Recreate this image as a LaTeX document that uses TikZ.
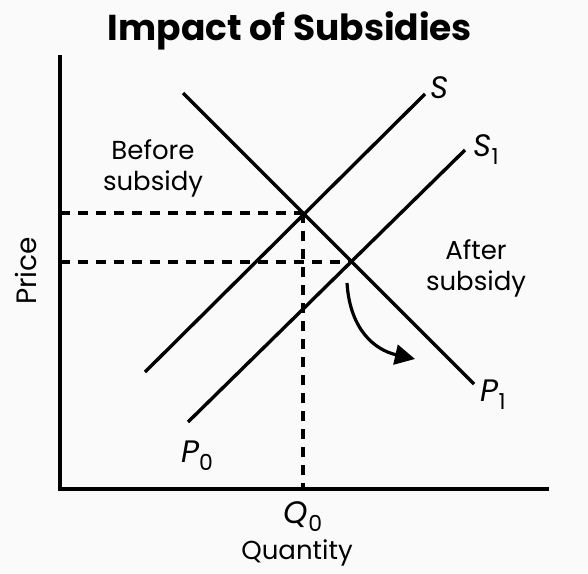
\documentclass[tikz,border=0pt]{standalone}
\usepackage{fontspec}
\setmainfont{Poppins}
\usetikzlibrary{arrows.meta}
\newcommand{\symsub}[2]{\textit{#1}\raisebox{-0.26em}{\fontsize{22}{26}\selectfont #2}}
\begin{document}
\begin{tikzpicture}[x=1pt,y=-1pt,
  axis/.style={line width=3.4pt},
  curve/.style={line width=3.4pt},
  guide/.style={line width=3.2pt, dash pattern=on 10pt off 8pt},
  lbl/.style={font=\fontsize{26}{31}\selectfont, align=center, inner sep=0pt},
  sym/.style={font=\fontsize{31}{34}\selectfont, inner sep=0pt}]
\useasboundingbox (0,0) rectangle (588,573);
\fill[white!98!black] (0,0) rectangle (588,573);
% axes
\coordinate (top) at (60,55);
\coordinate (orig) at (60,489);
\coordinate (right) at (549,489);
\draw[axis] (top) -- (orig) -- (right);
% lines
\coordinate (d0) at (183,93);
\coordinate (d1) at (474,384);
\coordinate (s0) at (145,372);
\coordinate (s1) at (425,94);
\coordinate (t0) at (188,422);
\coordinate (t1) at (465,150);
\draw[curve] (d0) -- (d1);
\draw[curve] (s0) -- (s1);
\draw[curve] (t0) -- (t1);
% equilibria
\coordinate (e0) at (303,213);
\coordinate (e1) at (349,262);
\coordinate (y0) at (60,213);
\coordinate (y1) at (60,262);
\coordinate (q0) at (303,487);
\draw[guide] (y0) -- (e0);
\draw[guide] (e0) -- (q0);
\draw[guide] (y1) -- (e1);
% arrow
\coordinate (a0) at (347,283);
\coordinate (a1) at (415,359);
\draw[line width=3.2pt, -{Triangle[length=20pt,width=20pt]}] (a0) .. controls (350,330) and (375,350) .. (a1);
% labels
\node[font=\fontsize{36}{42}\selectfont\bfseries] (title) at (290,31) {Impact of Subsidies};
\node[lbl] (before) at (153,168) {Before\\subsidy};
\node[lbl] (after) at (476,268) {After\\subsidy};
\node[sym] (S) at (440,88) {\itshape S};
\node[sym] (S1) at (486,150) {\symsub{S}{1}};
\node[sym] (P1) at (493,395) {\symsub{P}{1}};
\node[sym] (P0) at (197,456) {\symsub{P}{0}};
\node[sym] (Q0) at (303,517) {\symsub{Q}{0}};
\node[lbl] (qty) at (297,553) {Quantity};
\node[lbl, font=\fontsize{28}{32}\selectfont, rotate=90] (price) at (26,271) {Price};
\end{tikzpicture}
\end{document}
